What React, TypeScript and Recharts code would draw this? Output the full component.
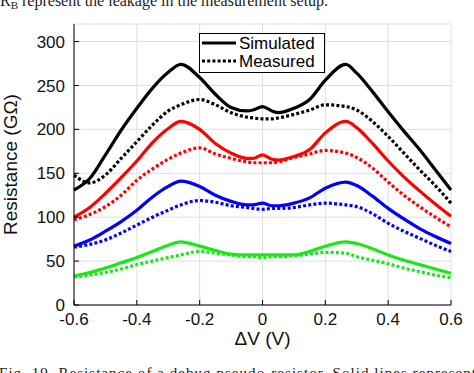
import React from "react";
import { CartesianGrid, Legend, Line, LineChart, XAxis, YAxis } from "recharts";

// ΔV sample points (V)
const dv = [
  -0.6, -0.55, -0.5, -0.45, -0.4, -0.35, -0.3, -0.26, -0.2, -0.15, -0.1, -0.05, -0.03, 0,
  0.03, 0.05, 0.1, 0.15, 0.2, 0.265, 0.3, 0.35, 0.4, 0.45, 0.5, 0.55, 0.6,
];

// resistance in GΩ
const simBlack = [131, 144, 171, 199, 224, 247, 265, 274, 259, 240, 225, 221, 222, 226, 221, 219, 224, 234, 256, 274, 264, 243, 220, 198, 177, 154, 131];
const measBlack = [148, 139, 148, 167, 186, 205, 221, 228, 234, 228, 219, 214, 213, 212, 212, 213, 217, 222, 228, 226, 222, 209, 192, 173, 154, 136, 116];
const simRed = [100, 111, 127, 145, 164, 185, 201, 209, 200, 184, 173, 167, 167, 171, 166, 165, 169, 177, 196, 209, 202, 184, 164, 146, 130, 115, 101];
const measRed = [97, 103, 112, 125, 142, 155, 166, 173, 179, 172, 167, 163, 162, 162, 162, 163, 168, 172, 176, 173, 168, 156, 140, 125, 112, 100, 89];
const simBlue = [67, 74, 84, 95, 108, 123, 135, 141, 135, 125, 118, 114, 114, 116, 113, 113, 116, 122, 133, 140, 136, 124, 110, 98, 87, 78, 70];
const measBlue = [66, 69, 74, 82, 91, 100, 108, 114, 119, 117, 113, 111, 110, 109, 110, 110, 111, 114, 116, 114, 112, 104, 93, 84, 76, 68, 61];
const simGreen = [33, 37, 42, 48, 54, 61, 68, 72, 67, 62, 58, 57, 57, 57, 57, 57, 57, 61, 67, 72, 70, 64, 57, 51, 46, 41, 36];
const measGreen = [32, 34, 37, 41, 46, 50, 54, 57, 61, 59, 57, 55, 55, 54, 55, 55, 56, 58, 60, 59, 55, 51, 47, 42, 38, 34, 31];

const xTicks = [-0.6, -0.4, -0.2, 0, 0.2, 0.4, 0.6];
const yTicks = [0, 50, 100, 150, 200, 250, 300];

const data = dv.map((x, i) => ({
  x,
  simBlack: simBlack[i],
  measBlack: measBlack[i],
  simRed: simRed[i],
  measRed: measRed[i],
  simBlue: simBlue[i],
  measBlue: measBlue[i],
  simGreen: simGreen[i],
  measGreen: measGreen[i],
}));

const SANS = '"Liberation Sans", Arial, Helvetica, sans-serif';
const SERIF = '"Liberation Serif", "Times New Roman", serif';
const GREEN = "#18e818";
const DOTS = "3 2.2";

const series = [
  { key: "simBlack", color: "#000", dotted: false },
  { key: "measBlack", color: "#000", dotted: true },
  { key: "simRed", color: "#ff0000", dotted: false },
  { key: "measRed", color: "#ff0000", dotted: true },
  { key: "simBlue", color: "#0000ff", dotted: false },
  { key: "measBlue", color: "#0000ff", dotted: true },
  { key: "simGreen", color: GREEN, dotted: false },
  { key: "measGreen", color: GREEN, dotted: true },
];

function LegendBox() {
  return (
    <svg width={126} height={40} style={{ display: "block" }}>
      <rect x={0.5} y={0.5} width={125} height={39} fill="#fff" stroke="#000" />
      <line x1={3} x2={37} y1={10} y2={10} stroke="#000" strokeWidth={3.2} />
      <line x1={3} x2={37} y1={28} y2={28} stroke="#000" strokeWidth={3.2} strokeDasharray={DOTS} />
      <text x={40} y={16} fontFamily={SANS} fontSize={17}>Simulated</text>
      <text x={40} y={34} fontFamily={SANS} fontSize={17}>Measured</text>
    </svg>
  );
}

const noTick = () => <g />;

export default function App() {
  return (
    <div style={{ position: "absolute", left: 0, top: 0, width: 474, height: 373, overflow: "hidden", background: "#fff" }}>
      <svg width={474} height={373} style={{ position: "absolute", left: 0, top: 0 }}>
        <text x={0} y={6} fontFamily={SERIF} fontSize={16} fill="#222">
          <tspan>R</tspan>
          <tspan fontSize={11} dy={3}>B</tspan>
          <tspan dy={-3}> represent the leakage in the measurement setup.</tspan>
        </text>
        <text x={-1} y={378} fontFamily={SERIF} fontSize={15} fill="#222" textLength={477} lengthAdjust="spacing">
          Fig. 19. Resistance of a debug pseudo-resistor. Solid lines represent
        </text>
      </svg>
      <LineChart
        width={474}
        height={373}
        data={data}
        margin={{ top: 24, right: 23, bottom: 0, left: 0 }}
        style={{ position: "absolute", left: 0, top: 0 }}
      >
        <CartesianGrid stroke="#dedede" strokeWidth={1} />
        <XAxis
          dataKey="x"
          type="number"
          domain={[-0.6, 0.6]}
          ticks={xTicks}
          height={68}
          tickSize={-5}
          tickMargin={13}
          stroke="#000"
          tick={{ fill: "#111", fontSize: 17, fontFamily: SANS }}
          tickFormatter={(v) => String(v)}
          label={{ value: "ΔV (V)", position: "insideTop", offset: 27, fill: "#111", fontSize: 19, fontFamily: SANS }}
        />
        <XAxis xAxisId="top" dataKey="x" type="number" domain={[-0.6, 0.6]} ticks={xTicks} orientation="top" height={0} tickSize={-5} stroke="#000" tick={noTick} />
        <YAxis
          type="number"
          domain={[0, 320]}
          ticks={yTicks}
          width={74}
          tickSize={-5}
          tickMargin={14}
          stroke="#000"
          tick={{ fill: "#111", fontSize: 17, fontFamily: SANS }}
          label={{ value: "Resistance (GΩ)", angle: -90, position: "insideLeft", offset: 10, fill: "#111", fontSize: 19, fontFamily: SANS, style: { textAnchor: "middle" } }}
        />
        <YAxis yAxisId="right" type="number" domain={[0, 320]} ticks={yTicks} orientation="right" width={0} tickSize={-5} stroke="#000" tick={noTick} />
        <Legend
          verticalAlign="middle"
          align="center"
          layout="horizontal"
          content={<LegendBox />}
          wrapperStyle={{ position: "absolute", left: 199, top: 33, width: 126, height: 40 }}
        />
        {series.map((s) => (
          <Line
            key={s.key}
            dataKey={s.key}
            type="monotone"
            stroke={s.color}
            strokeWidth={3.2}
            strokeDasharray={s.dotted ? DOTS : undefined}
            dot={false}
            activeDot={false}
            legendType="none"
            isAnimationActive={false}
          />
        ))}
      </LineChart>
    </div>
  );
}
